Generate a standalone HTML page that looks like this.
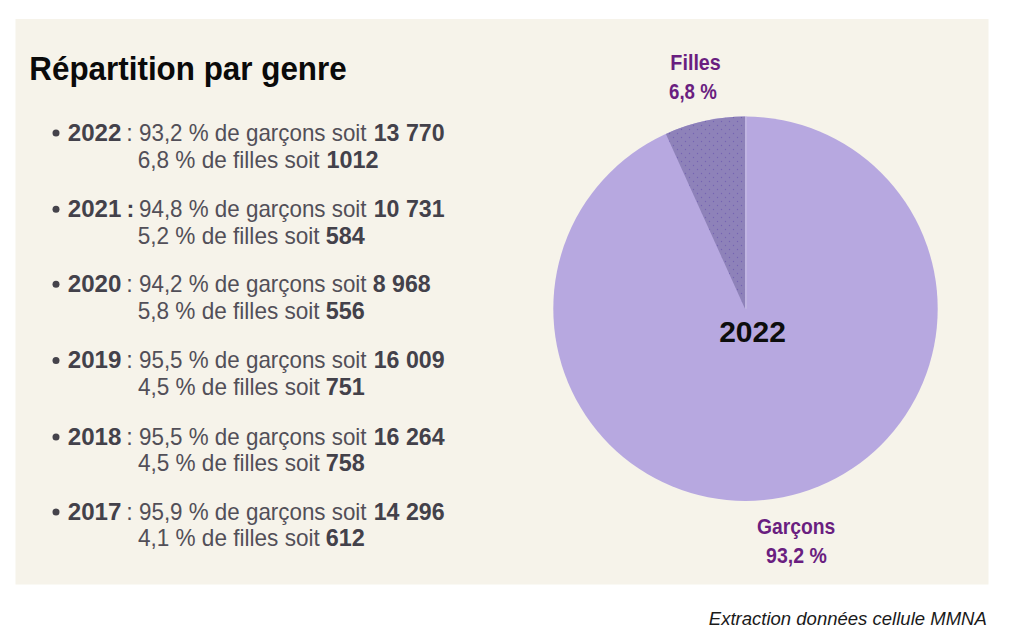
<!DOCTYPE html>
<html lang="fr">
<head>
<meta charset="utf-8">
<title>Répartition par genre</title>
<style>
html,body{margin:0;padding:0;background:#fff;}
body{width:1024px;height:644px;overflow:hidden;position:relative;}
svg{position:absolute;left:0;top:0;display:block;}
.t{font-family:"Liberation Sans",Arial,sans-serif;}
.li{font-size:23.4px;fill:#524f58;}
.li .b{fill:#43414a;font-weight:bold;}
.bu{fill:#45434b;}
.b{font-weight:bold;}
.lab{font-size:22px;font-weight:bold;fill:#6a1e80;}
</style>
</head>
<body>
<svg width="1024" height="644" viewBox="0 0 1024 644">
  <defs>
    <pattern id="dots" width="8" height="8" patternUnits="userSpaceOnUse">
      <rect width="8" height="8" fill="#8e82b9"/>
      <circle cx="1.5" cy="1.5" r="0.7" fill="#7464b2"/>
      <circle cx="5.5" cy="5.5" r="0.7" fill="#7464b2"/>
    </pattern>
  </defs>
  <rect x="15.5" y="19" width="973" height="565.5" fill="#f6f3ea"/>

  <!-- title -->
  <text class="t" x="29.3" y="79.8" textLength="317.4" lengthAdjust="spacingAndGlyphs" font-size="34" font-weight="bold" fill="#0a0a0a">Répartition par genre</text>

  <!-- list -->
  <g class="t li">
    <circle cx="56" cy="133.0" r="3.5" class="bu"/>
    <text x="67.77" y="140.6" class="b" textLength="53.61" lengthAdjust="spacingAndGlyphs">2022</text>
    <text x="126.30" y="140.6">:</text>
    <text x="139.04" y="140.6" textLength="227.51" lengthAdjust="spacingAndGlyphs">93,2 % de garçons soit</text>
    <text x="373.71" y="140.6" class="b" textLength="70.83" lengthAdjust="spacingAndGlyphs">13 770</text>
    <text x="137.74" y="167.5" textLength="181.88" lengthAdjust="spacingAndGlyphs">6,8 % de filles soit</text>
    <text x="326.40" y="167.5" class="b" textLength="52.05" lengthAdjust="spacingAndGlyphs">1012</text>

    <circle cx="56" cy="209.2" r="3.5" class="bu"/>
    <text x="67.77" y="216.8" class="b" textLength="53.61" lengthAdjust="spacingAndGlyphs">2021</text>
    <text x="126.40" y="216.8" class="b">:</text>
    <text x="139.04" y="216.8" textLength="227.51" lengthAdjust="spacingAndGlyphs">94,8 % de garçons soit</text>
    <text x="373.71" y="216.8" class="b" textLength="70.83" lengthAdjust="spacingAndGlyphs">10 731</text>
    <text x="137.74" y="243.5" textLength="181.88" lengthAdjust="spacingAndGlyphs">5,2 % de filles soit</text>
    <text x="325.70" y="243.5" class="b" textLength="39.03" lengthAdjust="spacingAndGlyphs">584</text>

    <circle cx="56" cy="284.2" r="3.5" class="bu"/>
    <text x="67.77" y="291.8" class="b" textLength="53.61" lengthAdjust="spacingAndGlyphs">2020</text>
    <text x="126.30" y="291.8">:</text>
    <text x="139.04" y="291.8" textLength="227.51" lengthAdjust="spacingAndGlyphs">94,2 % de garçons soit</text>
    <text x="372.81" y="291.8" class="b" textLength="57.96" lengthAdjust="spacingAndGlyphs">8 968</text>
    <text x="137.74" y="318.6" textLength="181.88" lengthAdjust="spacingAndGlyphs">5,8 % de filles soit</text>
    <text x="325.70" y="318.6" class="b" textLength="39.03" lengthAdjust="spacingAndGlyphs">556</text>

    <circle cx="56" cy="360.6" r="3.5" class="bu"/>
    <text x="67.77" y="368.2" class="b" textLength="53.61" lengthAdjust="spacingAndGlyphs">2019</text>
    <text x="126.30" y="368.2">:</text>
    <text x="139.04" y="368.2" textLength="227.51" lengthAdjust="spacingAndGlyphs">95,5 % de garçons soit</text>
    <text x="373.71" y="368.2" class="b" textLength="70.83" lengthAdjust="spacingAndGlyphs">16 009</text>
    <text x="137.90" y="394.8" textLength="181.88" lengthAdjust="spacingAndGlyphs">4,5 % de filles soit</text>
    <text x="325.70" y="394.8" class="b" textLength="39.03" lengthAdjust="spacingAndGlyphs">751</text>

    <circle cx="56" cy="437.0" r="3.5" class="bu"/>
    <text x="67.77" y="444.6" class="b" textLength="53.61" lengthAdjust="spacingAndGlyphs">2018</text>
    <text x="126.30" y="444.6">:</text>
    <text x="139.04" y="444.6" textLength="227.51" lengthAdjust="spacingAndGlyphs">95,5 % de garçons soit</text>
    <text x="373.71" y="444.6" class="b" textLength="70.83" lengthAdjust="spacingAndGlyphs">16 264</text>
    <text x="137.90" y="471.1" textLength="181.88" lengthAdjust="spacingAndGlyphs">4,5 % de filles soit</text>
    <text x="325.70" y="471.1" class="b" textLength="39.03" lengthAdjust="spacingAndGlyphs">758</text>

    <circle cx="56" cy="512.0" r="3.5" class="bu"/>
    <text x="67.77" y="519.6" class="b" textLength="53.61" lengthAdjust="spacingAndGlyphs">2017</text>
    <text x="126.30" y="519.6">:</text>
    <text x="139.04" y="519.6" textLength="227.51" lengthAdjust="spacingAndGlyphs">95,9 % de garçons soit</text>
    <text x="373.71" y="519.6" class="b" textLength="70.83" lengthAdjust="spacingAndGlyphs">14 296</text>
    <text x="137.90" y="546.2" textLength="181.88" lengthAdjust="spacingAndGlyphs">4,1 % de filles soit</text>
    <text x="325.70" y="546.2" class="b" textLength="39.03" lengthAdjust="spacingAndGlyphs">612</text>

  </g>

  <!-- pie -->
  <circle cx="745.5" cy="308.8" r="192.2" fill="#b7a8e0"/>
  <path d="M745 308.8 L745 116.6 A192.2 192.2 0 0 0 665.9 133.9 Z" fill="url(#dots)"/>
  <line x1="746" y1="308.8" x2="746" y2="116.8" stroke="#c1b6e2" stroke-width="1.8"/>

  <text class="t" x="752.5" y="342.4" textLength="66.7" lengthAdjust="spacingAndGlyphs" font-size="29" font-weight="bold" fill="#0d0d0d" text-anchor="middle">2022</text>

  <text class="t lab" x="695.6" y="69.7" textLength="50.5" lengthAdjust="spacingAndGlyphs" text-anchor="middle">Filles</text>
  <text class="t lab" x="692.9" y="99.1" textLength="47.7" lengthAdjust="spacingAndGlyphs" text-anchor="middle">6,8 %</text>
  <text class="t lab" x="796.2" y="533.5" textLength="78.3" lengthAdjust="spacingAndGlyphs" text-anchor="middle">Garçons</text>
  <text class="t lab" x="796.4" y="563.2" textLength="60.7" lengthAdjust="spacingAndGlyphs" text-anchor="middle">93,2 %</text>

  <text class="t" x="986.8" y="624.5" textLength="278" lengthAdjust="spacingAndGlyphs" font-size="17.5" font-style="italic" fill="#1a1a1a" text-anchor="end">Extraction données cellule MMNA</text>
</svg>
</body>
</html>
